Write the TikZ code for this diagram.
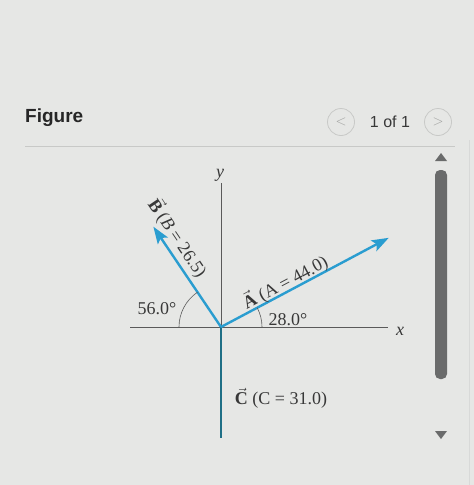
\documentclass[tikz,border=0pt]{standalone}
\usepackage{fontspec}
\setmainfont{Liberation Serif}
\newfontfamily\uisans{Liberation Sans}
\usetikzlibrary{arrows.meta}
\definecolor{bgc}{HTML}{E6E7E5}
\definecolor{vecblue}{HTML}{2A9DD0}
\definecolor{ccol}{HTML}{1F6F86}
\definecolor{axisgray}{HTML}{5A5A5A}
\definecolor{txt}{HTML}{383838}
\definecolor{uigray}{HTML}{C8C9C7}
\definecolor{scrollc}{HTML}{6A6B6B}
\tikzset{
  axisline/.style={axisgray, line width=0.9pt},
  vecline/.style={vecblue, line width=2.4pt, -{Stealth[length=17pt,width=12pt,inset=3.5pt]}},
  anglearc/.style={axisgray, line width=0.6pt},
  lbl/.style={text=txt, font=\fontsize{18}{20}\selectfont, inner sep=0pt},
  uicirc/.style={uigray, line width=0.8pt},
}
\begin{document}
\begin{tikzpicture}[x=1pt,y=-1pt]
\useasboundingbox (0,0) rectangle (474,485);
\fill[bgc] (0,0) rectangle (474,485);
% header
\node[text=black!85, font=\uisans\bfseries\fontsize{19}{21}\selectfont, anchor=west, inner sep=0pt] (fig) at (25,118) {Figure};
\node[text=txt, font=\uisans\fontsize{16}{18}\selectfont, inner sep=0pt] (page) at (390,122) {1 of 1};
\node[uicirc, draw, circle, minimum size=27pt, inner sep=0pt, text=uigray!80!black, font=\uisans\fontsize{15}{16}\selectfont] (prev) at (341,122) {$<$};
\node[uicirc, draw, circle, minimum size=27pt, inner sep=0pt, text=uigray!80!black, font=\uisans\fontsize{15}{16}\selectfont] (next) at (438,122) {$>$};
\draw[uigray, line width=0.8pt] (25,146) -- (455,146);
\draw[uigray!70, line width=0.6pt] (469,140) -- (469,485);
% scrollbar
\fill[scrollc] (441,153) -- (447,161) -- (435,161) -- cycle;
\fill[scrollc, rounded corners=5pt] (435,170) rectangle (447,379);
\fill[scrollc] (435,431) -- (447,431) -- (441,439) -- cycle;
% diagram
\coordinate (O) at (221,327);
\coordinate (xe) at (388,327);
\coordinate (xs) at (130,327);
\coordinate (ye) at (221,183);
\coordinate (ce) at (221,438);
\draw[axisline] (xs) -- (xe);
\draw[axisline] (O) -- (ye);
\node[lbl, font=\itshape\fontsize{18}{20}\selectfont] (xl) at (400,331) {x};
\node[lbl, font=\itshape\fontsize{18}{20}\selectfont] (yl) at (220,175) {y};
\draw[ccol, line width=1.8pt] (O) -- (ce);
\draw[vecline] (O) -- ++(-28:190) coordinate (Atip);
\draw[vecline] (O) -- ++(-124:121) coordinate (Btip);
\draw[anglearc] ([shift={(0:41)}]O) arc[start angle=0, end angle=-28, radius=41];
\draw[anglearc] ([shift={(180:42)}]O) arc[start angle=180, end angle=236, radius=42];
\node[lbl] (angA) at (288,320) {28.0°};
\node[lbl] (angB) at (157,309) {56.0°};
\node[lbl, rotate=28] (labA) at (285,282) {$\vec{\textbf{A}}$ (A = 44.0)};
\node[lbl, rotate=-56] (labB) at (178,238) {$\vec{\textbf{B}}$ (\textit{B} = 26.5)};
\node[lbl] (labC) at (281,398) {$\vec{\textbf{C}}$ (C = 31.0)};
\end{tikzpicture}
\end{document}
